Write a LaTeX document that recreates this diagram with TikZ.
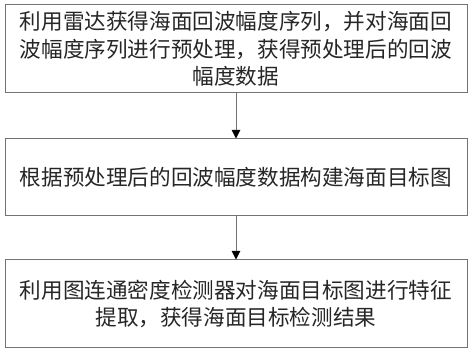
\documentclass[tikz,border=0pt]{standalone}
\usepackage{fontspec}
\setmainfont{Noto Sans CJK SC}
\usetikzlibrary{arrows.meta}
\begin{document}
\begin{tikzpicture}[x=1pt,y=1pt,
  stepbox/.style={draw=black!55, line width=1pt, minimum width=462pt, align=center, inner sep=0pt,
    font=\fontsize{21.6}{27.5}\selectfont, text=black!85},
  conn/.style={draw=black!55, line width=1pt, -{Triangle[width=8.5pt,length=8.5pt,color=black]}}]
\useasboundingbox (0,0) rectangle (474,353);
\node[stepbox, minimum height=88pt] (a) at (236,304) {利用雷达获得海面回波幅度序列，并对海面回\\波幅度序列进行预处理，获得预处理后的回波\\幅度数据};
\node[stepbox, minimum height=77pt] (b) at (236,175.5) {根据预处理后的回波幅度数据构建海面目标图};
\node[stepbox, minimum height=88pt] (c) at (236,49) {利用图连通密度检测器对海面目标图进行特征\\提取，获得海面目标检测结果};
\draw[conn] (a) -- (b);
\draw[conn] (b) -- (c);
\end{tikzpicture}
\end{document}
